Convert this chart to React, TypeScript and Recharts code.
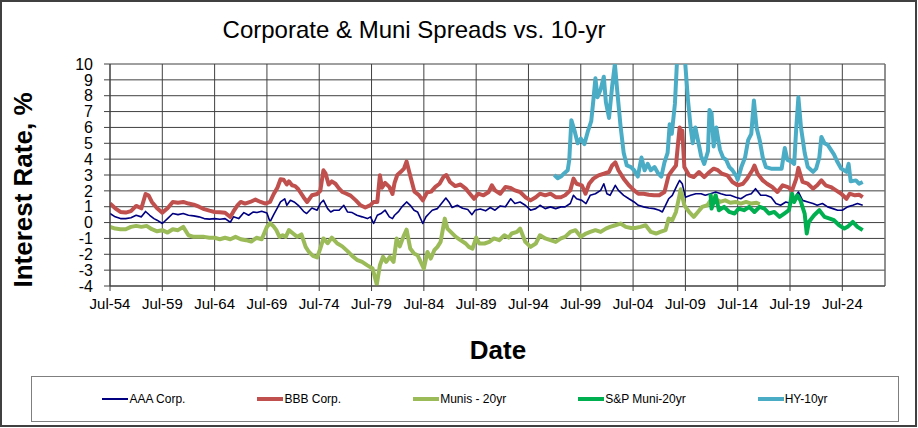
import { CartesianGrid, Line, LineChart, ReferenceLine, XAxis, YAxis } from "recharts";

// [decimal year, spread %]
const aaaCorp = [
  [1954.5, 0.57], [1955, 0.36], [1955.5, 0.25], [1956, 0.25], [1956.5, 0.3], [1957, 0.46], [1957.5, 0.36],
  [1957.9, 0.7], [1958.3, 0.46], [1958.7, 0.25], [1959, 0.15], [1959.5, -0.06], [1960, 0.25], [1960.5, 0.57],
  [1961, 0.5], [1961.5, 0.57], [1962, 0.46], [1962.5, 0.42], [1963, 0.36], [1963.5, 0.25], [1964, 0.22],
  [1964.5, 0.25], [1965, 0.21], [1965.5, 0.25], [1966, 0.02], [1966.3, 0.36], [1966.8, 0.25], [1967.3, 0.63],
  [1967.75, 0.46], [1968.2, 0.67], [1968.55, 0.63], [1969, 0.71], [1969.5, 0.6], [1969.8, 0.04], [1970.15, 0.5],
  [1970.5, 0.92], [1970.8, 1.3], [1971.2, 1.5], [1971.4, 1.09], [1971.75, 1.41], [1972.1, 1.3], [1972.5, 1.09],
  [1973, 0.71], [1973.3, 0.57], [1973.8, 0.92], [1974.3, 0.78], [1974.6, 1.2], [1974.9, 1.41], [1975.3, 0.88],
  [1975.6, 0.67], [1975.9, 0.78], [1976.4, 0.78], [1976.85, 1.09], [1977.2, 0.67], [1977.65, 0.63], [1978.1, 0.46],
  [1978.6, 0.36], [1979.1, 0.25], [1979.4, 0.36], [1979.7, -0.06], [1980.05, 0.46], [1980.4, 0.57], [1980.8, 0.78],
  [1981.2, 0.36], [1981.5, 0.25], [1981.7, 0.46], [1982.1, 0.71], [1982.4, 0.99], [1982.85, 1.3], [1983.2, 1.09],
  [1983.56, 0.78], [1983.9, 0.67], [1984.4, -0.06], [1984.7, 0.36], [1985, 0.57], [1985.3, 0.78], [1985.8, 0.88],
  [1986.3, 1.3], [1986.6, 1.55], [1986.9, 1.3], [1987.2, 0.95], [1987.7, 1.09], [1988.2, 0.9], [1988.7, 0.82],
  [1989.1, 0.5], [1989.4, 0.78], [1989.9, 0.86], [1990.4, 0.74], [1990.85, 0.95], [1991.3, 0.78], [1991.8, 1.05],
  [1992.3, 1.0], [1992.8, 1.5], [1993.2, 1.2], [1993.7, 1.3], [1994.2, 1.09], [1994.7, 0.78], [1995.2, 0.88],
  [1995.6, 1.09], [1996.1, 0.88], [1996.6, 0.99], [1997.1, 0.88], [1997.6, 0.99], [1998, 0.99], [1998.5, 1.2],
  [1998.8, 1.72], [1999.1, 1.5], [1999.6, 1.4], [2000, 1.2], [2000.4, 1.72], [2000.9, 1.82], [2001.4, 2.03],
  [2001.7, 2.45], [2002, 1.82], [2002.3, 1.72], [2002.8, 2.35], [2003.1, 2.03], [2003.6, 1.72], [2004.1, 1.5],
  [2004.6, 1.3], [2005, 1.09], [2005.5, 0.99], [2006, 0.92], [2006.5, 0.88], [2007, 0.78], [2007.3, 0.67],
  [2007.6, 1.09], [2007.9, 1.5], [2008.25, 1.72], [2008.7, 2.35], [2008.95, 2.66], [2009.2, 2.45], [2009.5, 1.6],
  [2010, 1.72], [2010.5, 1.82], [2011, 1.82], [2011.4, 1.72], [2011.9, 1.82], [2012.4, 1.93], [2012.9, 1.82],
  [2013.4, 1.72], [2013.8, 1.72], [2014.3, 1.6], [2014.8, 1.5], [2015.3, 1.72], [2015.8, 1.82], [2016.2, 2.14],
  [2016.7, 1.72], [2017.2, 1.72], [2017.7, 1.6], [2018.15, 1.2], [2018.6, 1.09], [2019.1, 1.3], [2019.6, 1.2],
  [2020.1, 1.72], [2020.3, 1.93], [2020.7, 1.4], [2021.2, 1.3], [2021.7, 1.2], [2022.1, 1.09], [2022.6, 1.2],
  [2023.1, 0.99], [2023.6, 0.88], [2024.05, 0.78], [2024.5, 0.78], [2025, 0.99], [2025.5, 1.09], [2025.95, 1.2],
  [2026.45, 1.09],
];

const bbbCorp = [
  [1954.5, 1.2], [1955, 0.9], [1955.5, 0.67], [1956, 0.63], [1956.5, 0.72], [1957, 1.05], [1957.5, 0.9],
  [1957.9, 1.8], [1958.2, 1.7], [1958.5, 1.3], [1959, 0.9], [1959.5, 0.63], [1960, 0.9], [1960.5, 1.3],
  [1961, 1.25], [1961.5, 1.3], [1962, 1.2], [1962.5, 1.13], [1963, 1.0], [1963.5, 0.85], [1964, 0.75],
  [1964.5, 0.67], [1965, 0.65], [1965.5, 0.62], [1966, 0.35], [1966.3, 0.7], [1966.7, 1.1], [1967, 1.3],
  [1967.4, 1.2], [1967.9, 1.3], [1968.4, 1.45], [1968.9, 1.3], [1969.35, 1.2], [1969.8, 1.3], [1970.15, 1.8],
  [1970.5, 2.2], [1970.8, 2.73], [1971.1, 2.7], [1971.4, 2.4], [1971.6, 2.6], [1971.9, 2.35], [1972.2, 2.3],
  [1972.5, 2.1], [1973, 1.6], [1973.34, 1.3], [1973.8, 1.72], [1974.3, 1.8], [1974.6, 2.0], [1974.9, 3.3],
  [1975.1, 3.1], [1975.4, 2.4], [1975.7, 2.6], [1976.05, 2.45], [1976.4, 2.14], [1976.7, 1.93], [1977, 1.85],
  [1977.5, 1.7], [1978, 1.4], [1978.45, 1.09], [1978.9, 0.95], [1979.4, 1.1], [1979.7, 1.3], [1980.05, 1.3],
  [1980.3, 2.98], [1980.5, 2.2], [1980.8, 2.5], [1981.2, 2.25], [1981.5, 1.8], [1981.7, 2.5], [1981.96, 3.0],
  [1982.3, 3.2], [1982.6, 3.4], [1982.85, 3.85], [1983.1, 3.2], [1983.3, 2.7], [1983.6, 1.95], [1984, 1.75],
  [1984.4, 1.4], [1984.8, 1.9], [1985.2, 1.95], [1985.6, 2.25], [1986, 2.45], [1986.4, 2.9], [1986.65, 3.0],
  [1987, 2.56], [1987.5, 2.3], [1988, 2.4], [1988.5, 2.14], [1988.9, 1.82], [1989.3, 1.5], [1989.7, 1.82],
  [1990.2, 1.72], [1990.7, 1.93], [1991, 2.35], [1991.3, 2.03], [1991.8, 1.82], [1992.3, 2.24], [1992.8, 2.18],
  [1993.2, 2.03], [1993.7, 1.93], [1994.2, 1.6], [1994.7, 1.4], [1995.2, 1.6], [1995.6, 1.82], [1996.1, 1.72],
  [1996.6, 1.82], [1997.1, 1.6], [1997.6, 1.6], [1998, 1.72], [1998.5, 2.03], [1998.8, 2.77], [1999.1, 2.45],
  [1999.6, 2.35], [1999.95, 1.82], [2000.3, 2.45], [2000.7, 2.77], [2001.2, 2.98], [2001.7, 3.08], [2002.2, 3.19],
  [2002.5, 3.6], [2002.8, 3.8], [2003.1, 3.3], [2003.6, 2.77], [2004.1, 2.35], [2004.6, 2.03], [2005, 1.82],
  [2005.5, 1.82], [2006, 1.76], [2006.5, 1.72], [2007, 1.72], [2007.5, 1.93], [2007.9, 2.98], [2008.25, 3.3],
  [2008.6, 3.6], [2008.8, 5.0], [2008.95, 6.0], [2009.05, 5.3], [2009.2, 5.8], [2009.4, 3.5], [2009.85, 2.98],
  [2010.3, 2.87], [2010.8, 3.19], [2011.3, 2.87], [2011.8, 3.19], [2012.2, 3.4], [2012.6, 3.3], [2013, 3.08],
  [2013.5, 2.98], [2014, 2.56], [2014.5, 2.35], [2015, 2.45], [2015.4, 2.77], [2015.9, 3.3], [2016.1, 3.6],
  [2016.4, 3.08], [2016.9, 2.66], [2017.3, 2.45], [2017.8, 2.24], [2018.3, 1.93], [2018.8, 2.35], [2019.3, 2.24],
  [2019.7, 2.03], [2020.1, 2.77], [2020.3, 3.45], [2020.7, 2.56], [2021.2, 2.45], [2021.7, 2.14], [2022.1, 2.35],
  [2022.5, 2.66], [2022.9, 2.35], [2023.4, 2.24], [2023.9, 2.03], [2024.4, 1.82], [2024.9, 1.5], [2025.2, 1.82],
  [2025.7, 1.72], [2026.1, 1.76], [2026.45, 1.6],
];

const munis20 = [
  [1954.5, -0.27], [1955, -0.38], [1955.5, -0.42], [1956, -0.42], [1956.5, -0.27], [1957, -0.21], [1957.5, -0.27],
  [1958, -0.21], [1958.5, -0.42], [1959, -0.55], [1959.5, -0.48], [1960, -0.63], [1960.5, -0.42], [1961, -0.48],
  [1961.5, -0.27], [1962, -0.8], [1962.5, -0.9], [1963, -0.9], [1963.5, -0.9], [1964, -0.96], [1964.5, -0.96],
  [1965, -1.05], [1965.5, -0.96], [1966, -1.05], [1966.5, -0.9], [1967, -1.05], [1967.5, -1.11], [1968, -1.2],
  [1968.5, -0.96], [1969, -1.05], [1969.5, -0.27], [1969.8, -0.04], [1970.1, -0.21], [1970.4, -0.48], [1970.7, -0.9],
  [1971, -0.8], [1971.3, -0.9], [1971.6, -0.48], [1972, -0.69], [1972.4, -0.9], [1972.8, -0.75], [1973.2, -1.53],
  [1973.5, -1.84], [1973.9, -2.1], [1974.3, -2.2], [1974.6, -1.64], [1974.9, -1.0], [1975.3, -1.3], [1975.7, -0.95],
  [1976.2, -1.3], [1976.7, -1.5], [1977.2, -1.8], [1977.65, -2.1], [1978.1, -2.35], [1978.6, -2.48], [1979.1, -2.7],
  [1979.6, -2.9], [1980, -3.9], [1980.3, -2.69], [1980.6, -2.16], [1980.9, -2.48], [1981.25, -2.16], [1981.6, -2.48],
  [1981.9, -1.0], [1982.2, -1.5], [1982.6, -0.8], [1982.85, -0.45], [1983.2, -1.64], [1983.56, -1.95], [1983.9, -2.06],
  [1984.2, -2.48], [1984.5, -2.9], [1984.84, -1.85], [1985.16, -2.27], [1985.5, -1.74], [1985.8, -1.53], [1986.1, -1.22],
  [1986.5, 0.25], [1986.75, -0.38], [1987.07, -0.59], [1987.55, -0.9], [1988, -1.11], [1988.5, -1.32], [1988.8, -1.53],
  [1989.15, -1.64], [1989.5, -0.95], [1989.8, -1.32], [1990.3, -1.32], [1990.75, -1.22], [1991.2, -1.0], [1991.7, -1.11],
  [1992.2, -0.8], [1992.6, -0.95], [1992.9, -0.69], [1993.4, -0.59], [1993.7, -0.38], [1994.2, -1.22], [1994.7, -1.53],
  [1995.2, -1.32], [1995.6, -0.8], [1996.1, -1.0], [1996.6, -1.11], [1997.1, -1.22], [1997.6, -1.0], [1998, -0.9],
  [1998.5, -0.59], [1999, -0.48], [1999.5, -0.9], [2000, -0.69], [2000.4, -0.59], [2000.9, -0.48], [2001.4, -0.59],
  [2001.9, -0.38], [2002.3, -0.27], [2002.8, -0.17], [2003.3, -0.06], [2003.8, -0.27], [2004.3, -0.34], [2004.7, -0.34],
  [2005.2, -0.27], [2005.7, -0.17], [2006.2, -0.59], [2006.7, -0.69], [2007.1, -0.59], [2007.6, -0.48], [2007.9, 0.25],
  [2008.25, 0.15], [2008.6, 0.67], [2008.9, 1.6], [2009.05, 2.1], [2009.4, 1.09], [2009.85, 0.67], [2010.3, 0.36],
  [2010.7, 0.67], [2011.1, 0.99], [2011.6, 1.09], [2012.1, 1.6], [2012.4, 1.5], [2012.8, 1.3], [2013.3, 1.4],
  [2013.8, 1.25], [2014.3, 1.3], [2014.8, 1.2], [2015.3, 1.3], [2015.8, 1.2], [2016.3, 1.25], [2016.6, 1.15],
];

const spMuni20 = [
  [2011.9, 1.82], [2012, 0.88], [2012.4, 1.72], [2012.7, 0.78], [2013.2, 0.99], [2013.7, 0.67], [2014.2, 0.57],
  [2014.6, 0.88], [2015.1, 0.78], [2015.6, 0.99], [2016.1, 0.67], [2016.6, 0.99], [2017.05, 0.88], [2017.5, 0.57],
  [2018, 0.67], [2018.5, 0.36], [2018.95, 0.57], [2019.4, 0.78], [2019.7, 1.82], [2019.9, 1.3], [2020.2, 1.72],
  [2020.5, 1.4], [2020.9, 0.57], [2021.1, -0.69], [2021.3, 0.04], [2021.8, 0.46], [2022.3, 0.78], [2022.8, 0.36],
  [2023.3, 0.25], [2023.7, 0.15], [2024.2, -0.17], [2024.7, -0.38], [2025, -0.27], [2025.5, 0.04], [2025.95, -0.27],
  [2026.45, -0.48],
];

const hy10 = [
  [1996.97, 3.0], [1997.3, 2.8], [1997.6, 2.9], [1997.9, 3.1], [1998.25, 3.3], [1998.4, 3.95], [1998.6, 6.46],
  [1998.9, 5.8], [1999.2, 5.0], [1999.5, 5.3], [1999.85, 4.95], [2000.2, 5.8], [2000.5, 6.4], [2000.7, 7.7],
  [2000.9, 9.1], [2001.1, 7.9], [2001.4, 8.4], [2001.7, 9.2], [2001.9, 7.6], [2002.2, 6.6], [2002.5, 8.6],
  [2002.76, 10.0], [2003, 8.2], [2003.3, 6.1], [2003.6, 4.4], [2003.9, 3.6], [2004.3, 3.5], [2004.6, 3.3],
  [2004.95, 2.9], [2005.3, 4.1], [2005.6, 3.3], [2005.9, 3.7], [2006.2, 3.3], [2006.55, 3.5], [2006.9, 3.1],
  [2007.2, 2.9], [2007.5, 3.8], [2007.8, 4.4], [2008, 6.2], [2008.2, 5.6], [2008.5, 7.5], [2008.7, 10.2],
  [2008.9, 15], [2009.2, 14], [2009.5, 9.9], [2009.75, 7.7], [2010, 6.0], [2010.2, 5.0], [2010.45, 6.0],
  [2010.7, 5.2], [2011, 4.2], [2011.3, 3.7], [2011.66, 4.5], [2011.8, 7.1], [2012, 6.9], [2012.2, 4.8],
  [2012.45, 6.0], [2012.8, 4.6], [2013.1, 4.1], [2013.4, 3.95], [2013.7, 3.5], [2014, 3.3], [2014.4, 2.9],
  [2014.5, 2.7], [2014.85, 3.5], [2015.2, 4.1], [2015.5, 5.2], [2015.8, 5.6], [2016.05, 7.7], [2016.3, 6.0],
  [2016.6, 5.2], [2016.9, 4.1], [2017.2, 3.5], [2017.7, 3.4], [2018.2, 3.4], [2018.7, 3.4], [2019, 4.7],
  [2019.25, 3.95], [2019.6, 3.85], [2019.9, 3.7], [2020.1, 6.0], [2020.3, 7.9], [2020.55, 6.0], [2020.9, 4.4],
  [2021.2, 3.5], [2021.7, 3.2], [2022, 3.4], [2022.3, 4.1], [2022.5, 5.4], [2022.8, 5.0], [2023.1, 4.9],
  [2023.4, 4.6], [2023.7, 4.3], [2024.05, 3.8], [2024.4, 3.4], [2024.9, 3.2], [2025.1, 3.7], [2025.3, 2.6],
  [2025.8, 2.66], [2026.1, 2.45], [2026.45, 2.56],
];

const xTicks = [1954.5, 1959.5, 1964.5, 1969.5, 1974.5, 1979.5, 1984.5, 1989.5, 1994.5, 1999.5, 2004.5, 2009.5, 2014.5, 2019.5, 2024.5];
const yTicks = [-4, -3, -2, -1, 0, 1, 2, 3, 4, 5, 6, 7, 8, 9, 10];
const xMin = 1954.5;
const xMax = 2028.58;

const series = [
  { name: "AAA Corp.", color: "#000080", width: 1.6, points: aaaCorp },
  { name: "BBB Corp.", color: "#C0504D", width: 4, points: bbbCorp },
  { name: "Munis - 20yr", color: "#9BBB59", width: 4, points: munis20 },
  { name: "S&P Muni-20yr", color: "#00B050", width: 4, points: spMuni20 },
  { name: "HY-10yr", color: "#4BACC6", width: 4, points: hy10 },
];

const font = "'Liberation Sans', Arial, sans-serif";

const fmtDate = (v: number) => "Jul-" + String(Math.floor(v) % 100).padStart(2, "0");

export default function App() {
  return (
    <div
      style={{
        position: "absolute",
        left: 0,
        top: 0,
        width: 917,
        height: 427,
        boxSizing: "border-box",
        border: "2px solid #404040",
        background: "#fff",
        fontFamily: font,
        color: "#000",
      }}
    >
      <div style={{ position: "absolute", left: 0, top: 0 }}>
        <LineChart width={918} height={428} margin={{ top: 62, right: 35, bottom: 114, left: 48 }}>
          <CartesianGrid stroke="#404040" strokeWidth={1} />
          <XAxis
            type="number"
            dataKey="x"
            domain={[xMin, xMax]}
            ticks={xTicks}
            tickFormatter={fmtDate}
            allowDataOverflow
            height={30}
            stroke="#404040"
            tickSize={5}
            tickMargin={7}
            tick={{ fill: "#000", fontSize: 15, fontFamily: font }}
          />
          <YAxis
            type="number"
            domain={[-4, 10]}
            ticks={yTicks}
            allowDataOverflow
            interval={0}
            width={60}
            stroke="#404040"
            tickSize={6}
            tickMargin={11}
            tick={{ fill: "#000", fontSize: 16, fontFamily: font }}
          />
          <ReferenceLine x={xMax} stroke="#808080" strokeWidth={1} />
          {series.map((s) => (
            <Line
              key={s.name}
              data={s.points.map(([x, v]) => ({ x, v }))}
              dataKey="v"
              name={s.name}
              type="linear"
              stroke={s.color}
              strokeWidth={s.width}
              dot={false}
              activeDot={false}
              isAnimationActive={false}
              strokeLinejoin="round"
            />
          ))}
        </LineChart>
      </div>

      <div style={{ position: "absolute", left: 112, top: 16, width: 600, textAlign: "center", fontSize: 24, lineHeight: "24px" }}>
        Corporate &amp; Muni Spreads vs. 10-yr
      </div>

      <div
        style={{
          position: "absolute",
          left: 21 - 150,
          top: 188 - 13,
          width: 300,
          height: 26,
          lineHeight: "26px",
          textAlign: "center",
          fontSize: 26,
          fontWeight: "bold",
          transform: "rotate(-90deg)",
        }}
      >
        Interest Rate, %
      </div>

      <div style={{ position: "absolute", left: 396, top: 335, width: 200, textAlign: "center", fontSize: 26, lineHeight: "26px", fontWeight: "bold" }}>
        Date
      </div>

      <div
        style={{
          position: "absolute",
          left: 29,
          top: 374,
          width: 868,
          height: 46,
          boxSizing: "border-box",
          border: "1px solid #7f7f7f",
          display: "flex",
          alignItems: "center",
          justifyContent: "center",
          gap: 72,
          fontSize: 12,
        }}
      >
        {series.map((s) => (
          <div key={s.name} style={{ display: "flex", alignItems: "center" }}>
            <span style={{ display: "inline-block", width: 26, height: s.width > 2 ? 4 : 2, background: s.color }} />
            <span style={{ marginLeft: 1 }}>{s.name}</span>
          </div>
        ))}
      </div>
    </div>
  );
}
